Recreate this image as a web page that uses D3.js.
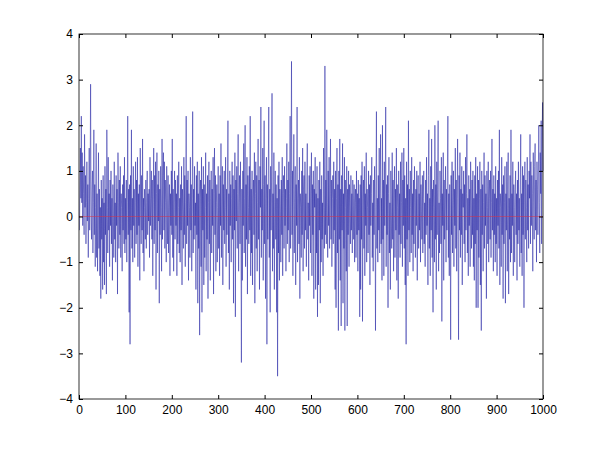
<!doctype html>
<html>
<head>
<meta charset="utf-8">
<style>
  body { margin: 0; background: #fff; }
  text { font-family: "Liberation Sans", Arial, sans-serif; font-size: 12px; }
</style>
</head>
<body>
<div id="aqui"></div>
<script src="https://d3js.org/d3.v7.min.js"></script>
<script>
// señal de ruido (valores leídos a ojo del gráfico)
var noise = [
-.3,.6,1.5,.4,2.2,.3,1.4,-.2,1.1,.5,-.4,1.8,.2,.9,-.6,.3,1.2,-.1,.7,-.9,.4,1.5,-.3,.8,2.9,.1,-.5,.6,1.0,-.8,.3,1.9,-.4,.7,-1.1,.2,1.6,-.9,.5,-1.2,.1,1.4,-.7,.6,-1.3,.2,-1.8,.8,-.5,.4,
-1.6,.9,-1.0,.3,-1.5,1.1,-.4,.6,-1.7,1.9,.2,-.8,1.3,-.3,.5,-1.1,.8,-.2,1.0,-.6,.4,-1.4,.7,.1,-.9,1.2,-.5,.3,-1.0,.9,-.2,.6,-1.7,1.4,.3,-.7,.8,-.4,1.1,-.9,.5,.2,-1.2,.7,-.3,.9,-.6,1.3,-.8,.4,
-.5,.8,-1.0,.3,2.2,-.4,.6,-2.1,.7,-2.8,.9,-.3,1.9,-.7,.4,-1.0,1.1,-.2,.6,-.9,.3,1.2,-.6,.8,-.4,1.3,-1.1,.5,-.2,.7,-1.4,1.5,.1,-.6,.9,-.3,1.7,-.8,.4,-1.2,.6,.2,-.5,.8,-.7,.3,1.0,-.4,.5,-.1,
.6,-.9,1.3,-.2,.4,1.0,-.5,.8,-1.3,.3,1.5,-.6,.9,-.3,1.2,-1.6,.5,1.4,-.8,.7,-.1,1.0,-1.9,.6,-.4,1.1,.2,-1.2,1.7,-.5,.9,1.4,-.3,1.2,-.7,.8,.3,-1.0,1.1,.4,-.6,.9,-.8,.2,.7,-1.3,.5,-.2,1.0,-.4,
1.7,-.9,.6,-1.2,.3,1.0,-.5,.8,-.2,.5,-1.3,.9,-.6,.2,1.2,-.8,.4,-1.0,.7,-.3,1.1,-1.5,.6,.1,-.7,1.3,-.4,.9,-1.1,.3,2.2,-.6,.8,-.2,1.0,-1.4,.5,.2,-.9,1.3,-.3,.7,-1.2,.4,2.3,-.8,.6,-.5,1.1,-.2,
.3,-1.6,.9,-.4,1.2,-1.9,.5,-.7,1.0,-2.6,.4,.8,-1.1,1.3,-2.1,.6,-.3,1.1,-1.5,.7,-.9,.2,1.4,-1.2,.5,-.5,.9,-1.8,.3,1.2,-.6,.8,-1.4,.4,1.0,-.8,.6,-.2,1.3,-1.7,.5,1.5,-.4,.9,-1.2,.3,.7,-1.0,.2,1.1,
-.7,.5,-1.3,.9,-.2,1.6,-.9,.4,1.1,-1.5,.7,-.3,1.0,-.6,.2,1.3,-1.1,.6,-.4,.8,2.1,-.8,.5,-1.6,1.0,-.2,.7,-1.0,.4,1.2,-.5,.9,-1.9,.6,-.3,1.4,-2.2,.8,-.1,1.1,-.7,.5,1.8,-1.2,.3,.9,-.6,1.2,-.4,-3.2,
.6,-1.4,1.0,-.2,1.6,-.8,.4,2.0,-1.1,.7,-.5,1.3,-1.7,.9,.2,-.6,1.1,-.3,2.2,-1.3,.6,-.8,1.0,-1.5,.4,.8,-.4,1.4,-1.9,.5,1.2,-.7,.9,-1.2,.3,1.7,-.5,.8,-1.6,1.1,.2,2.4,-.9,.6,-.3,1.5,-1.4,.7,2.1,-.6,
.9,-1.8,.4,1.3,-2.8,.7,-.5,1.0,2.4,-.9,.6,-2.1,1.1,-.3,.8,2.7,-1.2,.5,-.7,1.4,-1.6,.3,1.0,-.5,.7,-2.1,.4,-3.5,.9,-.8,1.2,-1.4,.6,.1,-1.0,.8,-.4,1.3,-1.3,.5,.9,-.7,1.1,-.2,.6,-1.2,.4,1.6,-.6,.8,
-.3,1.2,-1.0,.5,2.2,-.7,.9,3.4,-.4,1.0,-1.3,.6,1.8,-.8,.3,1.1,-1.5,.7,-.2,2.4,-1.0,.4,.8,-.6,1.3,-1.8,.5,.2,-.9,1.0,-.4,1.5,-1.2,.6,.9,-.7,1.2,-.3,.5,-1.1,.8,1.6,-.5,.3,-1.4,.9,-.2,1.1,-.8,.4,
1.4,-1.3,.7,-.4,1.0,-1.8,.6,.2,1.3,-1.6,.5,-.8,1.1,-2.2,.4,-1.5,.8,-.3,1.2,-1.9,.6,-1.0,.9,-.5,.3,-1.3,1.5,.2,-.7,3.3,-.4,.8,-.6,1.9,.3,-.9,1.0,-.2,1.3,-.7,.5,1.7,-.5,.8,-1.1,.4,.9,-.6,1.2,-.3,
.6,-1.6,1.0,-2.0,.4,1.5,-.8,.7,-2.5,1.0,-.5,1.7,-1.4,.6,-2.4,.9,-.3,1.6,-1.9,.5,-.7,1.3,-2.5,.8,.2,-1.2,1.1,-2.4,.6,-.4,1.0,-1.1,.7,.1,-.6,.9,-.3,.5,-.8,.8,.4,-.5,.7,-1.0,.3,.6,-.9,1.0,-.4,.5,
-1.2,.8,-.3,.4,-2.2,.7,-1.6,.9,-.5,1.2,-2.3,.4,.8,-.7,1.1,-1.3,.5,-.2,1.4,-1.0,.6,.2,-.8,1.0,-.4,.7,-1.5,.9,-.2,.5,1.3,-.9,.3,-1.2,.8,-.4,1.1,.2,-2.5,.6,2.3,-.7,.4,-1.0,.9,-.3,1.5,-.8,.5,1.8,
-.6,.4,-1.4,2.0,-.5,.8,-1.3,1.2,-.2,.6,2.4,-1.1,.7,-.4,.9,-2.0,.5,1.3,-.8,.3,-1.6,1.0,.1,-.7,1.4,-.5,.8,-1.2,.4,1.1,-.9,.6,-.3,1.5,-1.4,.7,.2,-1.8,1.0,-.4,.5,-.9,1.2,-.6,.3,1.4,-1.1,.8,-.2,1.5,
-.7,.9,-1.5,.4,-2.8,1.2,-.5,.7,-1.3,2.1,-.3,.6,-1.0,1.0,.2,-.8,1.3,-.4,.5,-1.2,.8,-.6,1.1,.3,-.9,.6,-.2,1.0,-1.4,.4,.9,-.7,.5,-.3,1.2,-1.0,.7,.1,-.5,.9,-.8,.4,1.0,-.6,.3,-1.1,.8,-.4,1.3,-.2,
.5,-1.5,.9,1.9,-.7,.4,-1.3,1.1,-.3,1.7,-.9,.6,-2.1,.8,.2,-1.0,2.0,-.5,.7,-1.6,1.2,-.4,.6,2.1,-1.2,.3,-.8,1.0,.4,-.6,1.3,-2.3,.5,-.2,1.4,-1.4,.8,-.5,.3,1.1,-1.0,.6,-.3,1.0,2.2,-.9,.5,-1.3,.7,-.1,
-2.7,.9,-.4,1.2,-.8,.3,1.0,-1.1,.6,-.2,1.5,-.7,.8,-1.2,.4,1.7,-.5,-2.7,.9,-.3,1.4,-.9,.6,-.4,1.1,-1.5,.5,.2,1.0,-.6,.7,-1.0,1.3,-.3,.5,1.8,-.8,.4,-1.3,.9,-.2,.6,-1.1,1.2,.3,-.7,.8,-.4,1.0,-1.1,
.4,-1.4,.9,-.6,1.3,-2.0,.5,-.3,1.1,-2.0,.8,-.9,.4,1.2,-1.5,.6,-2.5,1.0,-.4,.7,-1.2,.3,1.4,-.7,.9,-.2,.5,-1.8,1.0,.2,-.6,1.2,-1.0,.4,.8,-.5,1.0,-.9,.3,1.7,-.3,.6,-1.2,.9,-.4,.5,-1.0,1.1,-.6,.4,
-1.3,.8,-.2,1.0,-.7,1.9,-1.5,.5,.2,-1.1,1.3,-.4,.7,-1.8,.9,-.6,.3,1.1,-1.9,.5,-.3,1.2,-1.2,.6,1.4,-1.7,.4,-.5,.9,-1.0,1.9,-.8,.5,-.2,1.2,-1.3,.7,.2,-1.0,.6,1.0,-.4,.5,-1.4,.8,-.6,1.2,-.3,.4,-1.1,
.6,1.8,-.8,.5,-1.3,1.1,-.4,.9,-2.0,.6,1.2,-.5,.8,.2,-1.0,1.3,-.3,.7,-.7,1.0,.4,1.8,-.6,1.2,-.2,.9,.5,-1.2,1.4,.3,-.5,1.1,1.6,-.3,.8,-1.0,1.2,.6,-.4,1.0,2.0,.3,-.8,1.4,.5,2.1,-.6,1.5,2.5,1.0
];
// línea roja en cero
var zeroX = [0, 1000];
var zeroY = [0, 0];
var xTicks = [0, 100, 200, 300, 400, 500, 600, 700, 800, 900, 1000];
var yTicks = [-4, -3, -2, -1, 0, 1, 2, 3, 4];

var w = 600, h = 450;
var mLeft = 79, mRight = 543, mTop = 34, mBottom = 399;

var svg = d3.select("#aqui").append("svg")
  .attr("width", w).attr("height", h);

var x = d3.scaleLinear().domain([0, 1000]).range([mLeft, mRight]);
var y = d3.scaleLinear().domain([-4, 4]).range([mBottom, mTop]);

// ruido
var line = d3.line()
  .x(function(d, i) { return x(i + 1); })
  .y(function(d) { return y(d); });
svg.append("path")
  .datum(noise)
  .attr("d", line)
  .attr("fill", "none")
  .attr("stroke", "#1a1aa0")
  .attr("stroke-width", 0.5);

// cero
svg.append("path")
  .datum(zeroX.map(function(v, i) { return [v, zeroY[i]]; }))
  .attr("d", d3.line().x(function(d) { return x(d[0]); }).y(function(d) { return y(d[1]); }))
  .attr("stroke", "#e03040")
  .attr("stroke-width", 0.5);

// marco y ticks hacia adentro (estilo matlab)
svg.append("rect")
  .attr("x", mLeft).attr("y", mTop)
  .attr("width", mRight - mLeft).attr("height", mBottom - mTop)
  .attr("fill", "none").attr("stroke", "#000").attr("stroke-width", 0.8);

var fmt = d3.format("d");
svg.append("g").attr("transform", "translate(0," + mBottom + ")")
  .call(d3.axisBottom(x).tickValues(xTicks).tickFormat(fmt).tickSize(-4).tickPadding(6));
svg.append("g").attr("transform", "translate(0," + mTop + ")")
  .call(d3.axisTop(x).tickValues(xTicks).tickSize(-4).tickFormat(""));
svg.append("g").attr("transform", "translate(" + mLeft + ",0)")
  .call(d3.axisLeft(y).tickValues(yTicks).tickFormat(fmt).tickSize(-4).tickPadding(6));
svg.append("g").attr("transform", "translate(" + mRight + ",0)")
  .call(d3.axisRight(y).tickValues(yTicks).tickSize(-4).tickFormat(""));

svg.selectAll(".domain").remove();
svg.selectAll(".tick text")
  .style("font-family", '"Liberation Sans", Arial, sans-serif')
  .style("font-size", "12px")
  .attr("fill", "#000");
</script>
</body>
</html>
